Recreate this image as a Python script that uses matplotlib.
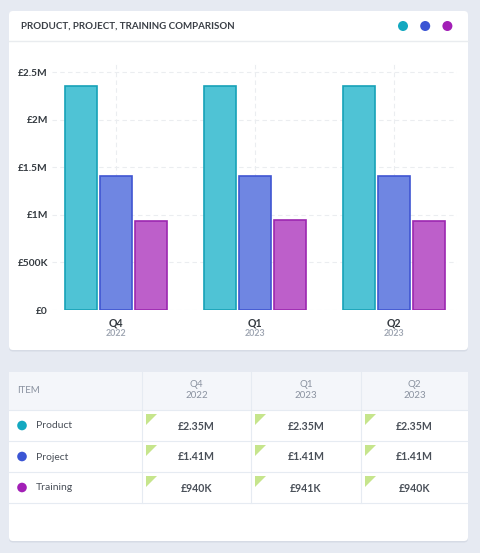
import matplotlib.pyplot as plt
import numpy as np
from matplotlib.patches import FancyBboxPatch, Rectangle, Polygon, Circle
from matplotlib.ticker import FuncFormatter

plt.rcParams["font.family"] = ["Lato", "DejaVu Sans"]

quarters = ["Q4", "Q1", "Q2"]
years = ["2022", "2023", "2023"]
items = ["Product", "Project", "Training"]
product = [2.35e6, 2.35e6, 2.35e6]
project = [1.41e6, 1.41e6, 1.41e6]
training = [940e3, 941e3, 940e3]
series = [product, project, training]

fills = ["#4fc3d5", "#6f86e2", "#bd5fca"]
edges = ["#17a2b8", "#3f55d2", "#9c27b0"]
dots = ["#13a8c0", "#3b55d4", "#a21fb6"]

W, H = 480, 553


def money(v):
    if v >= 1e6:
        s = f"{v / 1e6:.2f}".rstrip("0").rstrip(".")
        return f"£{s}M"
    if v >= 1e3:
        return f"£{v / 1e3:.0f}K"
    return f"£{v:.0f}"


fig = plt.figure(figsize=(W / 100, H / 100), dpi=100)
fig.patch.set_facecolor("#e6eaf2")

# overlay in pixel coordinates for cards and table
ov = fig.add_axes([0, 0, 1, 1])
ov.set_xlim(0, W)
ov.set_ylim(H, 0)
ov.axis("off")
ov.set_zorder(0)

for (x0, y0, x1, y1) in [(9, 11, 468, 350), (9, 372, 468, 541)]:
    ov.add_patch(FancyBboxPatch((x0, y0 + 1.5), x1 - x0, y1 - y0, boxstyle="round,pad=0,rounding_size=4",
                                fc="#d6dbe5", ec="none"))
    ov.add_patch(FancyBboxPatch((x0, y0), x1 - x0, y1 - y0, boxstyle="round,pad=0,rounding_size=4",
                                fc="white", ec="none"))

# chart header
ov.text(21, 26, "PRODUCT, PROJECT, TRAINING COMPARISON", fontsize=7, fontweight="bold",
        color="#3a3f46", va="center", ha="left")
ov.plot([9, 468], [40.5, 40.5], color="#e9ecef", lw=1)
for i, c in enumerate(dots):
    ov.add_patch(Circle((403 + 22.2 * i, 26), 5, fc=c, ec="none"))

# table
cols = [9, 142, 251, 361, 468]
ov.add_patch(Rectangle((9, 372), 459, 38, fc="#f4f6fa", ec="none"))
ov.text(17, 390.5, "ITEM", fontsize=7, color="#8a92a0", va="center")
for j in range(3):
    cx = (cols[j + 1] + cols[j + 2]) / 2
    ov.text(cx, 384.5, quarters[j], fontsize=7, color="#8a92a0", ha="center", va="center")
    ov.text(cx, 395.5, years[j], fontsize=7, color="#8a92a0", ha="center", va="center")
rows = [410, 441, 472, 503]
line_c = "#e6ebf2"
for y in rows:
    ov.plot([9, 468], [y, y], color=line_c, lw=0.8)
for x in cols[1:4]:
    ov.plot([x, x], [372, 503], color=line_c, lw=0.8)
for i, name in enumerate(items):
    cy = (rows[i] + rows[i + 1]) / 2
    ov.add_patch(Circle((22, cy), 4.8, fc=dots[i], ec="none"))
    ov.text(36, cy + 0.5, name, fontsize=7.5, color="#4a5059", va="center")
    for j in range(3):
        x0 = cols[j + 1]
        ov.add_patch(Polygon([(x0 + 4, rows[i] + 4), (x0 + 15, rows[i] + 4), (x0 + 4, rows[i] + 15)],
                             closed=True, fc="#c6e58c", ec="none"))
        cx = (cols[j + 1] + cols[j + 2]) / 2
        ov.text(cx, cy + 0.5, money(series[i][j]), fontsize=7.6, fontweight="bold",
                color="#4a5059", ha="center", va="center")

# bar chart axes
left, right, top, bottom = 52, 457, 63, 310
ax = fig.add_axes([left / W, 1 - bottom / H, (right - left) / W, (bottom - top) / H])
ax.set_zorder(1)
ax.patch.set_alpha(0)

x = np.arange(len(quarters))
bw = 0.232
step = 0.252
for k, vals in enumerate(series):
    ax.bar(x + (k - 1) * step, vals, width=bw, color=fills[k], edgecolor=edges[k], linewidth=1.2, zorder=3)

px_per_unit = (310 - 72) / 2.5e6
ax.set_ylim(0, (bottom - top) / px_per_unit)
ax.set_xlim(-0.46, 2.455)
ax.set_yticks(np.arange(0, 2.51e6, 0.5e6))
ax.yaxis.set_major_formatter(FuncFormatter(lambda v, p: money(v)))
ax.set_xticks(x)
ax.set_xticklabels([])
ax.tick_params(length=0)
ax.tick_params(axis="y", labelsize=7.3, labelcolor="#343a40", pad=3)
for lab in ax.get_yticklabels():
    lab.set_fontweight("bold")
ax.grid(True, axis="both", color="#ebedf0", linestyle=(0, (4, 3)), linewidth=0.8, zorder=0)
for s in ax.spines.values():
    s.set_visible(False)

for i in range(3):
    ax.text(x[i], -0.052, quarters[i], transform=ax.get_xaxis_transform(), ha="center", va="center",
            fontsize=7.6, fontweight="bold", color="#343a40")
    ax.text(x[i], -0.095, years[i], transform=ax.get_xaxis_transform(), ha="center", va="center",
            fontsize=6.4, fontweight="bold", color="#a0a7b3")

fig.savefig("out.png", dpi=100, facecolor=fig.get_facecolor())
